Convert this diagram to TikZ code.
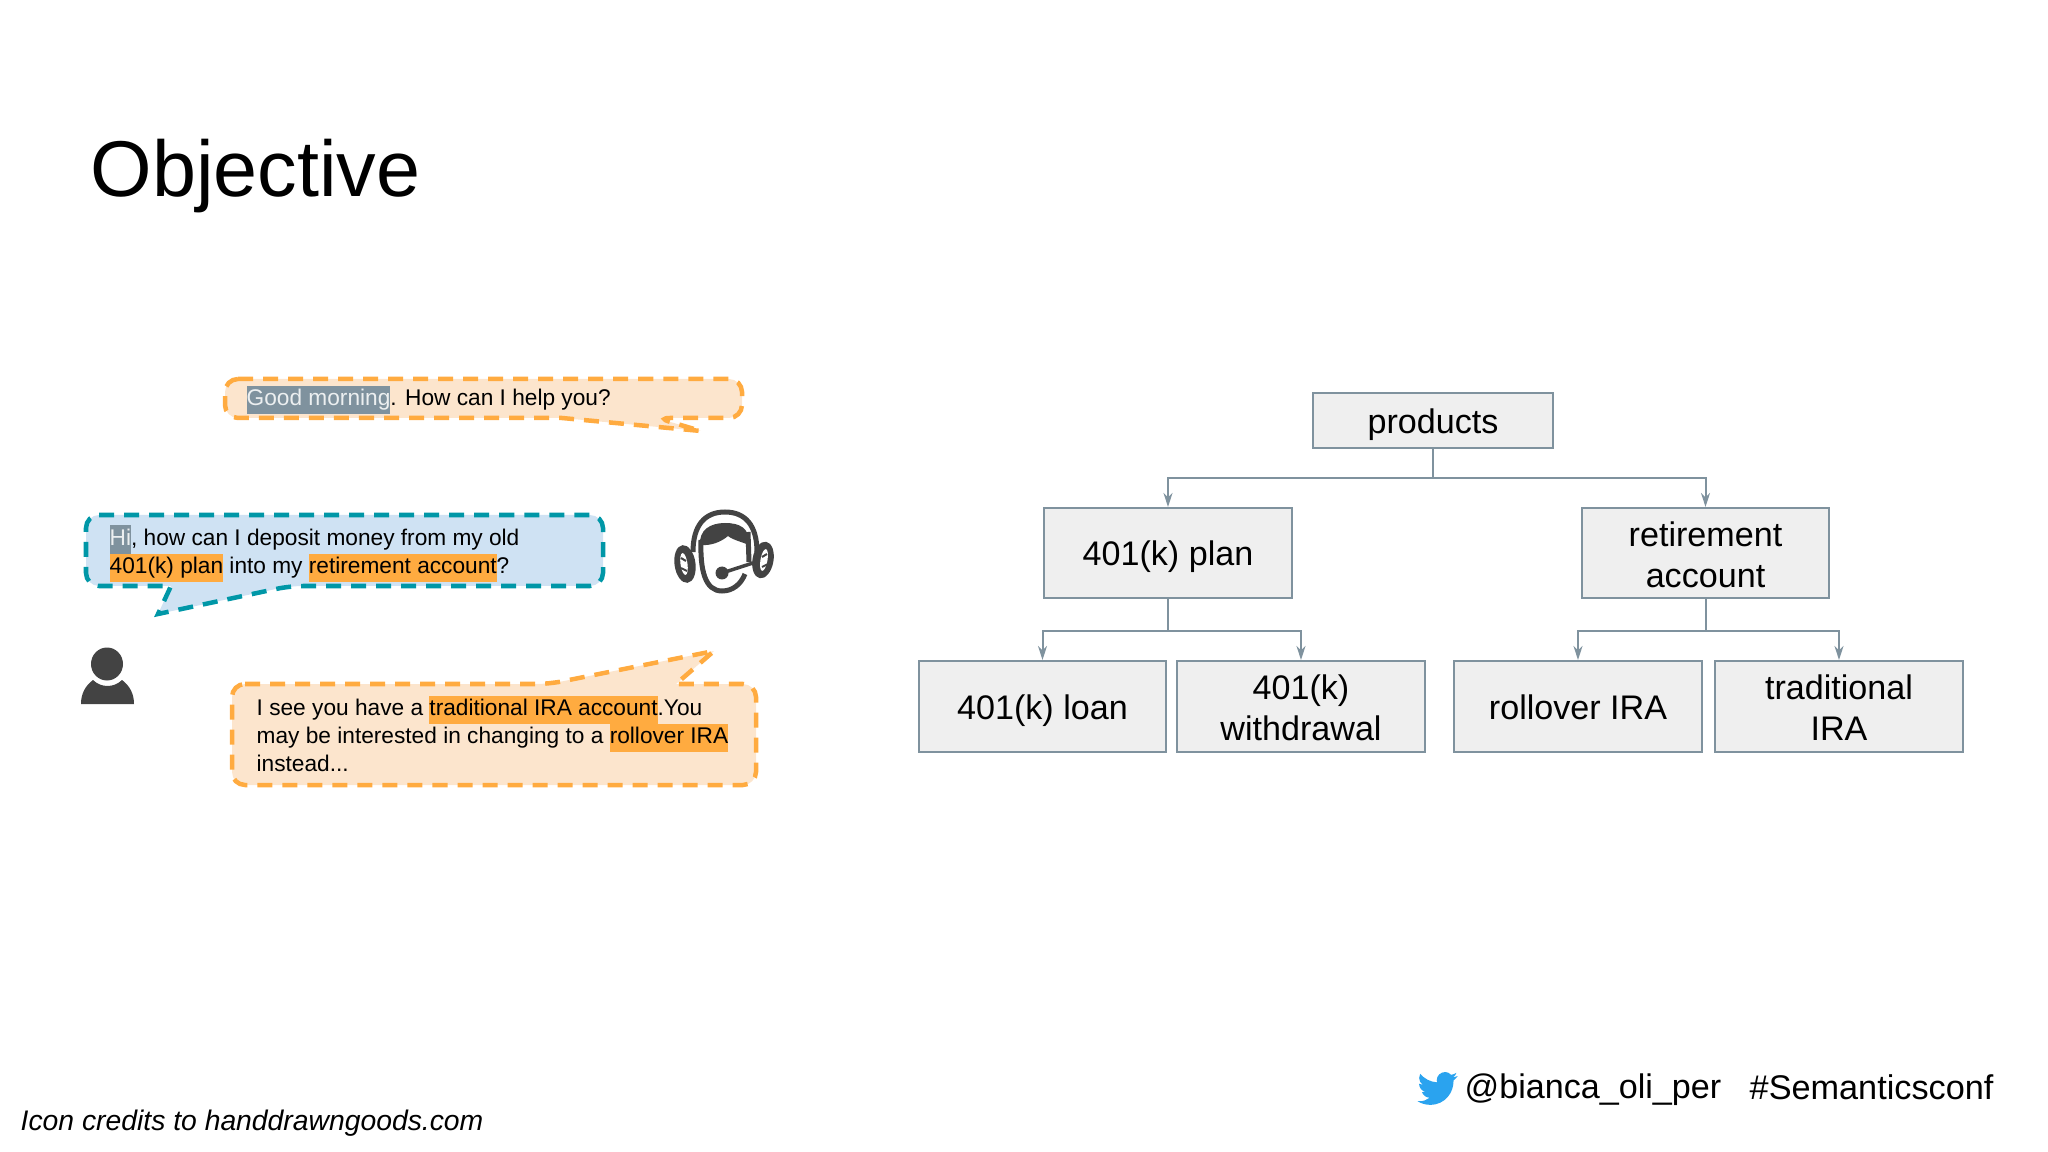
\documentclass[tikz,border=0pt]{standalone}
\usepackage{fontspec}
\setmainfont{Liberation Sans}
\usepackage{xcolor}
\usetikzlibrary{arrows.meta, positioning}
\definecolor{slate}{HTML}{7F929E}
\definecolor{tagorange}{HTML}{FFAB40}
\definecolor{peach}{HTML}{FCE5CD}
\definecolor{skyfill}{HTML}{CFE2F3}
\definecolor{teal}{HTML}{0097A7}
\definecolor{boxfill}{HTML}{EFEFEF}
\definecolor{icondark}{HTML}{434343}
\definecolor{birdblue}{HTML}{2AA3EF}
\setlength{\fboxsep}{0pt}
\newcommand{\hlo}[1]{\colorbox{tagorange}{\strut #1}}
\newcommand{\hlg}[1]{\colorbox{slate}{\strut\textcolor{white!85!slate}{#1}}}

\begin{document}
\begin{tikzpicture}[
  x=0.01cm, y=-0.01cm,
  catbox/.style={rectangle, draw=slate, line width=0.02cm, fill=boxfill, align=center,
                 font=\fontsize{9.7pt}{11.6pt}\selectfont, inner sep=0pt,
                 minimum width=2.47cm, minimum height=0.9cm},
  oneline/.style={text height=8.2pt, text depth=0.9pt},
  twoline/.style={text height=19.4pt, text depth=0pt},
  arrow/.style={-{Stealth[length=0.14cm, width=0.09cm]}, draw=slate, line width=0.02cm},
  orangebub/.style={draw=tagorange, fill=peach, line width=0.045cm, dash pattern=on 0.15cm off 0.1cm, rounded corners=0.13cm},
  tealbub/.style={draw=teal, fill=skyfill, line width=0.045cm, dash pattern=on 0.15cm off 0.1cm, rounded corners=0.13cm},
  chat/.style={anchor=west, align=left, inner sep=0pt, font=\fontsize{6.45pt}{8pt}\selectfont},
]
\useasboundingbox (0,0) rectangle (2048,1152);
% title
\node[anchor=west, inner sep=0pt, font=\fontsize{22.5pt}{27pt}\selectfont] (title) at (90,176) {Objective};
% bubbles
\draw[orangebub] (225,379) -- (742,379) -- (742,418) -- (657,418) [sharp corners] -- (701,431) -- (562,418) [rounded corners=0.13cm] -- (225,418) -- cycle;
\node[chat] (greet) at (246,400) {\hlg{Good morning}. How can I help you?};
\draw[tealbub] (86,515) -- (603,515) -- (603,586) -- (290,586) [sharp corners] -- (158,614) -- (171,586) [rounded corners=0.13cm] -- (86,586) -- cycle;
\node[chat] (ask) at (109,553.5) {\hlg{Hi}, how can I deposit money from my old\\\hlo{401(k) plan} into my \hlo{retirement account}?};
\draw[orangebub] (232,684) -- (549,684) [sharp corners] -- (714,651) -- (676,684) [rounded corners=0.13cm] -- (756,684) -- (756,785) -- (232,785) -- cycle;
\node[chat] (reply) at (256,734) {I see you have a \hlo{traditional IRA account}.You\\may be interested in changing to a \hlo{rollover IRA}\\instead...};
% user
\fill[icondark] (107,664) ellipse (16 and 16.5);
\fill[icondark] (81,704) .. controls (81,694) and (85,686) .. (93,680) .. controls (101,688) and (114,688) .. (122,680) .. controls (130,686) and (134,694) .. (134,704) -- cycle;
% agent
\draw[icondark, line width=0.05cm] (693,552) .. controls (693,525) and (705,512) .. (725,512) .. controls (745,512) and (757,525) .. (757,552);
\draw[icondark, line width=0.05cm] (701,540) .. controls (700,570) and (705,591) .. (722,591) .. controls (733,591) and (741,584) .. (745,574);
\draw[icondark, line width=0.05cm] (748,532) -- (749,562);
\fill[icondark] (700,545) .. controls (699,530) and (710,523) .. (725,523) .. controls (740,523) and (750,528) .. (749,545) .. controls (742,542) and (733,540) .. (728,536) .. controls (721,542) and (711,546) .. (700,545) -- cycle;
\fill[icondark, rotate around={8:(685,564)}] (685,564) ellipse (10.5 and 19);
\fill[icondark, rotate around={-10:(763,560)}] (763,560) ellipse (10.5 and 18.5);
\fill[white, rotate around={8:(684,564)}] (684,564) ellipse (3.5 and 11);
\fill[white, rotate around={-10:(764,560)}] (764,560) ellipse (3.5 and 11);
\draw[icondark, line width=0.02cm] (681,558) -- (686,561) (681,568) -- (687,571) (767,554) -- (762,557) (768,564) -- (762,567);
\draw[icondark, line width=0.035cm] (722,573) -- (753,563);
\fill[icondark] (722,573) circle (6.5);
% categories
\node[catbox, oneline, minimum width=2.4cm, minimum height=0.55cm] (prod) at (1433,420.5) {products};
\node[catbox, oneline] (plan) at (1168,553) {401(k) plan};
\node[catbox, twoline] (ret) at (1705.5,553) {retirement\\account};
\node[catbox, oneline, minimum height=0.91cm] (loan) at (1042.5,706.5) {401(k) loan};
\node[catbox, twoline, minimum height=0.91cm] (wdraw) at (1301,706.5) {401(k)\\withdrawal};
\node[catbox, oneline, minimum height=0.91cm] (roll) at (1578,706.5) {rollover IRA};
\node[catbox, twoline, minimum height=0.91cm] (trad) at (1839,706.5) {traditional\\IRA};
\draw[arrow] (prod.south) -- ++(0,29) -| (plan.north);
\draw[arrow] (prod.south) -- ++(0,29) -| (ret.north);
\draw[arrow] (plan.south) -- ++(0,32) -| (loan.north);
\draw[arrow] (plan.south) -- ++(0,32) -| (wdraw.north);
\draw[arrow] (ret.south) -- ++(0,32) -| (roll.north);
\draw[arrow] (ret.south) -- ++(0,32) -| (trad.north);
% footer
\node[anchor=west, inner sep=0pt, font=\fontsize{8.05pt}{10pt}\itshape\selectfont] (credit) at (20,1123.5) {Icon credits to handdrawngoods.com};
\begin{scope}[shift={(1417.5,1068.5)}, x=0.0167cm, y=-0.0167cm]
\fill[birdblue] (23.953,4.57) .. controls (23.1,4.95) and (22.1,5.2) .. (21.128,5.345) .. controls (22.2,4.7) and (22.9,3.7) .. (23.291,2.622) .. controls (22.34,3.177) and (21.286,3.581) .. (20.164,3.806) .. controls (19,2.6) and (17.8,2.1) .. (16.6,2.1) .. controls (13.8,2.1) and (11.5,4.3) .. (11.5,7) .. controls (11.5,7.45) and (11.6,7.9) .. (11.78,8.288) .. controls (7.69,8.095) and (4.067,6.13) .. (1.64,3.162) .. controls (1.22,3.9) and (0.974,4.7) .. (0.974,5.637) .. controls (0.974,7.347) and (1.844,8.85) .. (3.162,9.733) .. controls (2.35,9.7) and (1.6,9.5) .. (0.934,9.117) -- (0.934,9.177) .. controls (0.934,11.5) and (2.6,13.55) .. (4.88,14.004) .. controls (4.2,14.2) and (3.4,14.22) .. (2.668,14.089) .. controls (3.3,16) and (5.1,17.45) .. (7.272,17.506) .. controls (5.6,18.8) and (3.5,19.611) .. (1.17,19.611) .. controls (0.78,19.611) and (0.39,19.59) .. (0,19.544) .. controls (2.2,20.96) and (4.8,21.753) .. (7.557,21.753) .. controls (16.61,21.753) and (21.555,14.257) .. (21.555,7.768) .. controls (21.555,7.558) and (21.555,7.348) .. (21.54,7.138) .. controls (22.5,6.45) and (23.3,5.6) .. (24,4.59) -- cycle;
\end{scope}
\node[anchor=west, inner sep=0pt, font=\fontsize{9.7pt}{12pt}\selectfont] (handle) at (1464,1090) {@bianca\_oli\_per};
\node[anchor=west, inner sep=0pt, font=\fontsize{9.74pt}{12pt}\selectfont] (tag) at (1749,1087) {\#Semanticsconf};
\end{tikzpicture}
\end{document}
